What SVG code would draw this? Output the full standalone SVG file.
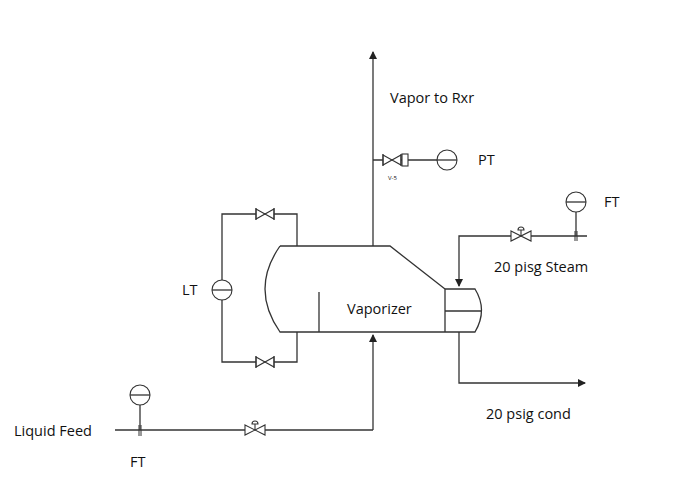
<svg xmlns="http://www.w3.org/2000/svg" width="698" height="489" viewBox="0 0 698 489">
<style>
.l{fill:none;stroke:#333;stroke-width:1.3}
.v{fill:#fff;stroke:#333;stroke-width:1.1}
text{font-family:"Open Sans","Liberation Sans",sans-serif;font-size:14.5px;fill:#111}
</style>
<defs>
<marker id="a" markerWidth="8" markerHeight="8" refX="7" refY="4" orient="auto" markerUnits="userSpaceOnUse"><path d="M0,0 L8,4 L0,8 Z" fill="#222"/></marker>
<g id="gv"><path class="v" d="M-9,-5 L9,5 L9,-5 L-9,5 Z"/><line class="v" x1="-9" y1="-6" x2="-9" y2="6"/><line class="v" x1="9" y1="-6" x2="9" y2="6"/></g>
<g id="cv"><path class="v" d="M-10,-5 L10,5 L10,-5 L-10,5 Z"/><line class="v" x1="0" y1="0" x2="0" y2="-6"/><path class="v" d="M-3,-6 A3,3 0 0 1 3,-6 Z"/></g>
</defs>
<rect width="698" height="489" fill="#fff"/>
<g id="connectors">
<path class="l" d="M373,246 V52" marker-end="url(#a)"/>
<path class="l" d="M373,430 V335" marker-end="url(#a)"/>
<path class="l" d="M115,430 H373"/>
<path class="l" d="M373,160 H437"/>
<path class="l" d="M297,246 V214 H222 V362 H297 V332"/>
<path class="l" d="M587,236 H459 V286" marker-end="url(#a)"/>
<path class="l" d="M459,332 V383 H585" marker-end="url(#a)"/>
<path class="l" d="M576,212 V236"/>
<path class="l" d="M140,405 V430"/>
</g>
<g id="vaporizer">
<path class="l" d="M280,246 H390 L445,289 M280,246 Q250,289 280,332 H445"/>
<path class="l" d="M445,289 V332 M445,289 H475 Q488,310 475,332 H445 M445,311 H481 M319,292 V332"/>
<text x="347" y="314">Vaporizer</text>
</g>
<g id="bypass-valves"><use href="#gv" x="265" y="214"/><use href="#gv" x="265" y="362"/></g>
<g id="lt"><circle class="v" cx="222" cy="290" r="10"/><line class="l" x1="212" y1="290" x2="232" y2="290"/><text x="182" y="295">LT</text></g>
<g id="pt">
<use href="#gv" x="392" y="160"/>
<rect class="v" x="402" y="154" width="6" height="12"/>
<circle class="v" cx="447" cy="160" r="10"/><line class="l" x1="437" y1="160" x2="457" y2="160"/>
<text x="478" y="165">PT</text>
<text x="388" y="180" style="font-size:6px">V-5</text>
</g>
<g id="steam">
<use href="#cv" x="521" y="236"/>
<circle class="v" cx="576" cy="202" r="10"/><line class="l" x1="566" y1="202" x2="586" y2="202"/>
<path class="l" d="M575,231 V241 M577,231 V241" style="stroke-width:1"/>
<text x="604" y="207">FT</text>
<text x="494" y="272">20 pisg Steam</text>
</g>
<g id="cond"><text x="486" y="419">20 psig cond</text></g>
<g id="vapor"><text x="390" y="103">Vapor to Rxr</text></g>
<g id="feed">
<use href="#cv" x="255" y="430"/>
<circle class="v" cx="140" cy="395" r="10"/><line class="l" x1="130" y1="395" x2="150" y2="395"/>
<path class="l" d="M139,425 V436 M141,425 V436" style="stroke-width:1"/>
<text x="14" y="436">Liquid Feed</text>
<text x="130" y="467">FT</text>
</g>
</svg>
